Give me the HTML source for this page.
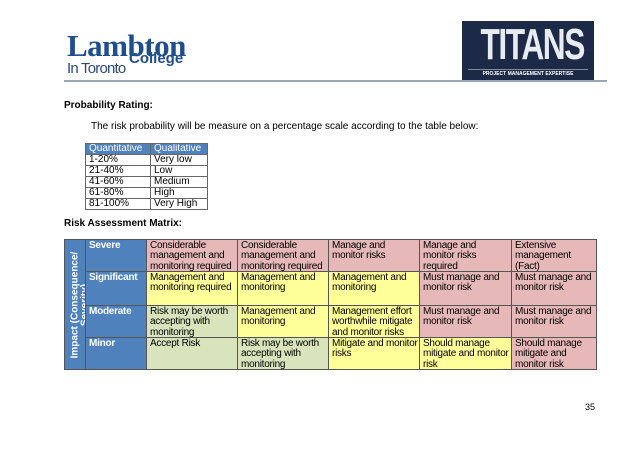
<!DOCTYPE html>
<html><head><meta charset="utf-8"><style>
*{margin:0;padding:0;box-sizing:border-box}
body{width:638px;height:451px;background:#fff;position:relative;font-family:"Liberation Sans",Arial,sans-serif;color:#000;overflow:hidden}
.abs{position:absolute}
.logo1{left:67px;top:28px;font-family:"Liberation Serif",serif;font-weight:bold;color:#1f4e8c;font-size:31px;letter-spacing:-0.5px}
.college{left:129px;top:50px;font-weight:bold;color:#1f4e8c;font-size:15px}
.toronto{left:67px;top:60px;color:#2a4a7a;font-size:15px;letter-spacing:-0.8px}
.rule{left:64px;top:80px;width:543px;height:2px;background:#9aa6b8}
.titans{left:462px;top:21px;width:132px;height:59px;background:#1c2a48;overflow:hidden}
.titans .t{position:absolute;left:0;top:2px;width:132px;text-align:center;color:#e8ecf0;font-weight:bold;font-size:44px;line-height:44px;letter-spacing:-2px;transform:scaleX(0.72)}
.titans .s{position:absolute;left:6px;top:48px;width:120px;text-align:center;color:#fff;font-size:5px;font-weight:bold;border-top:1px solid #889;padding-top:1px;white-space:nowrap}
.c{position:absolute;border:1px solid #555;font-size:10px;line-height:10.3px;padding:1px 2px 0 3px;overflow:hidden;letter-spacing:-0.25px;white-space:nowrap}
.sc{position:absolute;border:1px solid #666;font-size:10px;line-height:10px;padding:0 3px;height:11.8px;overflow:hidden}
.h{background:#4f81bd;color:#fff}
.p{background:#e6b9b8}.y{background:#ffff99}.g{background:#d7e4bc}
.b{background:#4f81bd;color:#fff;font-weight:bold}
.vl{position:absolute;left:64px;top:239px;width:22px;height:131px;background:#4f81bd;border:1px solid #555;overflow:hidden}
.vl span{position:absolute;left:-50px;top:55px;width:131px;height:20px;transform:rotate(-90deg);color:#fff;font-weight:bold;font-size:10px;line-height:10px;text-align:center}
</style></head><body>
<div class="abs logo1">Lambton</div>
<div class="abs college">College</div>
<div class="abs toronto">In Toronto</div>
<div class="abs rule"></div>
<div class="abs titans"><div class="t">TITANS</div><div class="s">PROJECT MANAGEMENT EXPERTISE</div></div>
<div class="abs" style="left:64px;top:100px;font-size:10px;font-weight:bold">Probability Rating:</div>
<div class="abs" style="left:91px;top:121px;font-size:10px">The risk probability will be measure on a percentage scale according to the table below:</div>
<div>
<div class="sc h" style="left:85px;top:143px;width:66px">Quantitative</div><div class="sc h" style="left:150px;top:143px;width:58px">Qualitative</div>
<div class="sc" style="left:85px;top:154px;width:66px">1-20%</div><div class="sc" style="left:150px;top:154px;width:58px">Very low</div>
<div class="sc" style="left:85px;top:165px;width:66px">21-40%</div><div class="sc" style="left:150px;top:165px;width:58px">Low</div>
<div class="sc" style="left:85px;top:176px;width:66px">41-60%</div><div class="sc" style="left:150px;top:176px;width:58px">Medium</div>
<div class="sc" style="left:85px;top:187px;width:66px">61-80%</div><div class="sc" style="left:150px;top:187px;width:58px">High</div>
<div class="sc" style="left:85px;top:198px;width:66px">81-100%</div><div class="sc" style="left:150px;top:198px;width:58px">Very High</div>
</div>
<div class="abs" style="left:64px;top:218px;font-size:10px;font-weight:bold">Risk Assessment Matrix:</div>
<div>
<div class="vl"><span>Impact (Consequence/ Severity)</span></div>
<div class="c b" style="left:85px;top:239px;width:62px;height:33px">Severe</div>
<div class="c p" style="left:146px;top:239px;width:92px;height:33px">Considerable<br>management and<br>monitoring required</div>
<div class="c p" style="left:237px;top:239px;width:92px;height:33px">Considerable<br>management and<br>monitoring required</div>
<div class="c p" style="left:328px;top:239px;width:92px;height:33px">Manage and<br>monitor risks</div>
<div class="c p" style="left:419px;top:239px;width:93px;height:33px">Manage and<br>monitor risks<br>required</div>
<div class="c p" style="left:511px;top:239px;width:86px;height:33px">Extensive<br>management<br>(Fact)</div>

<div class="c b" style="left:85px;top:271px;width:62px;height:35px">Significant</div>
<div class="c y" style="left:146px;top:271px;width:92px;height:35px">Management and<br>monitoring required</div>
<div class="c y" style="left:237px;top:271px;width:92px;height:35px">Management and<br>monitoring</div>
<div class="c y" style="left:328px;top:271px;width:92px;height:35px">Management and<br>monitoring</div>
<div class="c p" style="left:419px;top:271px;width:93px;height:35px">Must manage and<br>monitor risk</div>
<div class="c p" style="left:511px;top:271px;width:86px;height:35px">Must manage and<br>monitor risk</div>

<div class="c b" style="left:85px;top:305px;width:62px;height:33px">Moderate</div>
<div class="c g" style="left:146px;top:305px;width:92px;height:33px">Risk may be worth<br>accepting with<br>monitoring</div>
<div class="c y" style="left:237px;top:305px;width:92px;height:33px">Management and<br>monitoring</div>
<div class="c y" style="left:328px;top:305px;width:92px;height:33px">Management effort<br>worthwhile mitigate<br>and monitor risks</div>
<div class="c p" style="left:419px;top:305px;width:93px;height:33px">Must manage and<br>monitor risk</div>
<div class="c p" style="left:511px;top:305px;width:86px;height:33px">Must manage and<br>monitor risk</div>

<div class="c b" style="left:85px;top:337px;width:62px;height:33px">Minor</div>
<div class="c g" style="left:146px;top:337px;width:92px;height:33px">Accept Risk</div>
<div class="c g" style="left:237px;top:337px;width:92px;height:33px">Risk may be worth<br>accepting with<br>monitoring</div>
<div class="c y" style="left:328px;top:337px;width:92px;height:33px">Mitigate and monitor<br>risks</div>
<div class="c y" style="left:419px;top:337px;width:93px;height:33px">Should manage<br>mitigate and monitor<br>risk</div>
<div class="c p" style="left:511px;top:337px;width:86px;height:33px">Should manage<br>mitigate and<br>monitor risk</div>
</div>
<div class="abs" style="left:585px;top:402px;font-size:9px">35</div>
</body></html>
